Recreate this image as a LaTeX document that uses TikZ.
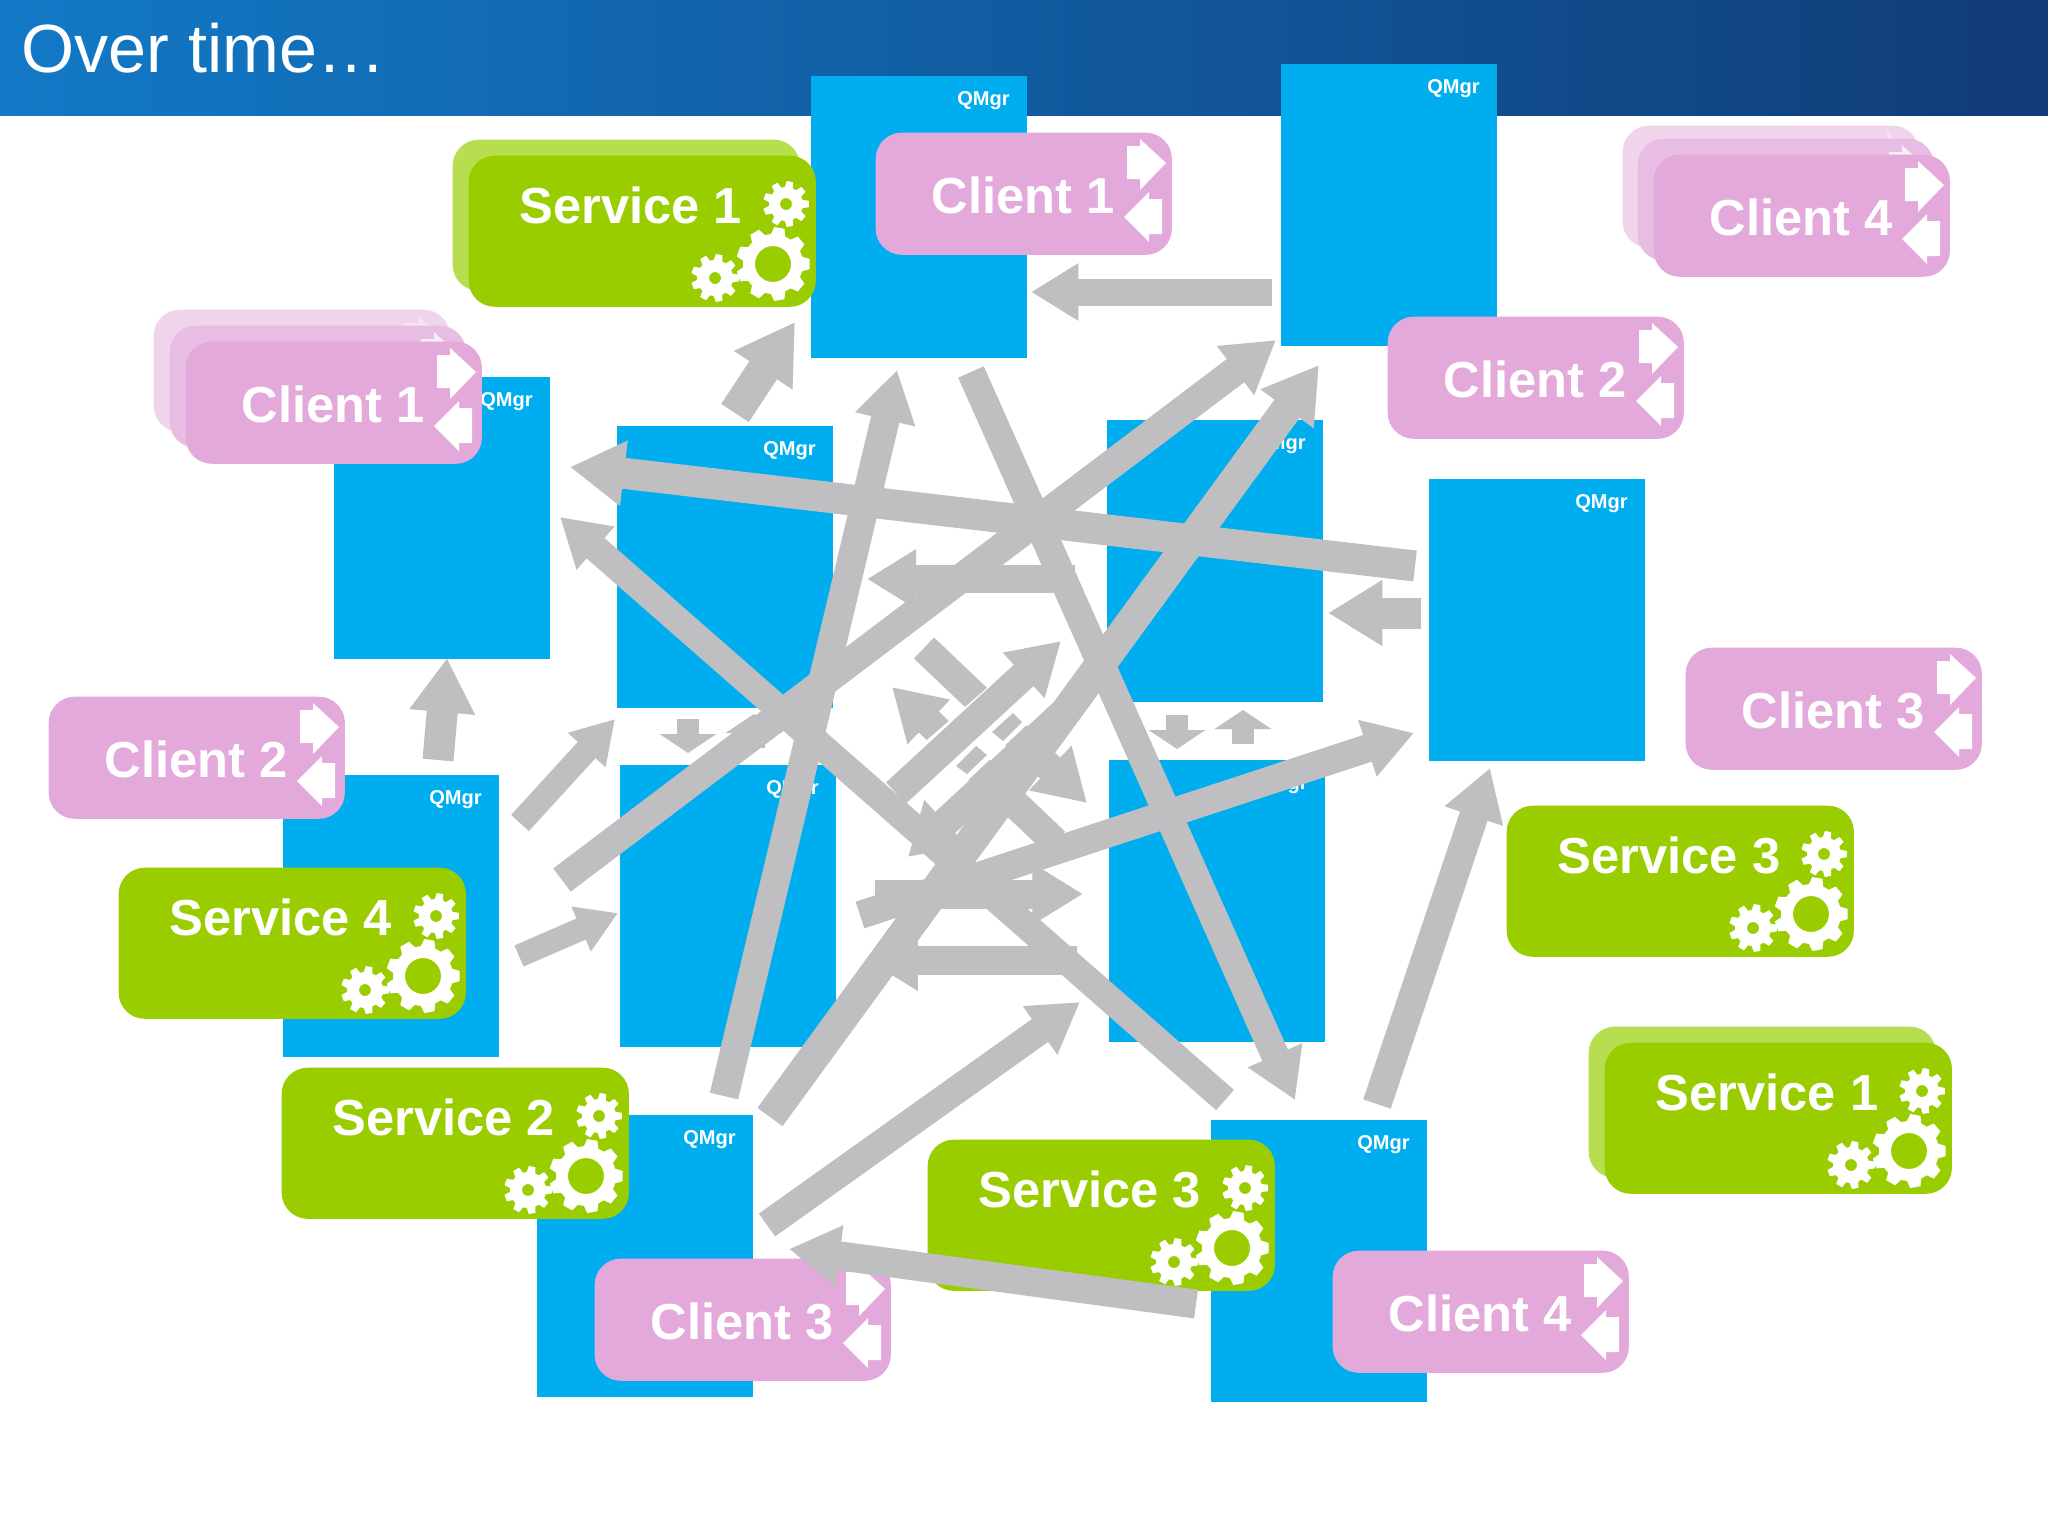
\documentclass[tikz,border=0pt]{standalone}
\usepackage{fontspec}
\setmainfont{Liberation Sans}
\usetikzlibrary{arrows.meta}
\definecolor{qmblue}{HTML}{00AEEF}
\definecolor{svcgreen}{HTML}{9ACD00}
\definecolor{svcghost}{HTML}{B7DE4E}
\definecolor{cltpink}{HTML}{E3A9DB}
\definecolor{cltghostb}{HTML}{E8BDE3}
\definecolor{cltghosta}{HTML}{F0D4EC}
\definecolor{ghostarra}{HTML}{F5E3F1}
\definecolor{ghostarrb}{HTML}{F8ECF6}
\definecolor{flowgrey}{HTML}{BFBEC0}
\definecolor{barleft}{HTML}{1279C6}
\definecolor{barmid}{HTML}{0D66B0}
\definecolor{barright}{HTML}{113C78}

\begin{document}
\begin{tikzpicture}[
  x=0.01cm, y=-0.01cm,
  qmbox/.style={fill=qmblue, anchor=north west, inner sep=0pt, minimum width=2.16cm, minimum height=2.82cm},
  qmlabel/.style={text=white, font=\bfseries\fontsize{5.7}{7}\selectfont, inner sep=0pt},
  svcbox/.style={fill=#1, anchor=north west, inner sep=0pt, rounded corners=0.26cm, minimum width=3.47cm, minimum height=1.51cm},
  svcbox/.default=svcgreen,
  cltbox/.style={fill=#1, anchor=north west, inner sep=0pt, rounded corners=0.26cm, minimum width=2.96cm, minimum height=1.22cm},
  cltbox/.default=cltpink,
  boxtext/.style={text=white, font=\bfseries\fontsize{14.4}{16}\selectfont, inner sep=0pt},
  flowarr/.style={draw=flowgrey, line width=#1*0.01cm, -{Triangle[length=0pt 1.75, width=0pt 2]}},
  ticker/.style={draw=flowgrey, line width=0.22cm, -{Triangle[length=0.19cm, width=0.56cm]}},
  pics/gear/.style n args={3}{code={
    \fill[white, even odd rule] (-14:#2)
      \foreach \a in {0,40,...,320} { -- (\a-14:#2) -- (\a-8:#1) -- (\a+8:#1) -- (\a+14:#2) } -- cycle
      (0,0) circle (#3);
  }},
  pics/svcdeco/.style={code={
    \node[boxtext] at (163,50) {#1};
    \pic at (318,49) {gear={23}{17}{6}};
    \pic at (305,109) {gear={37}{30}{18}};
    \pic at (247,123) {gear={24}{18}{6}};
  }},
  pics/pairarrows/.style={code={
    \fill[#1] (252,14) -- (265,14) -- (265,7) -- (291,31) -- (265,58) -- (265,47) -- (252,47) -- cycle;
    \fill[#1] (287,67) -- (274,67) -- (274,60) -- (249,85) -- (274,110) -- (274,102) -- (287,102) -- cycle;
  }},
]
  \useasboundingbox (0,0) rectangle (2048,1536);
  \fill[white] (0,0) rectangle (2048,1536);

  % title bar
  \shade[left color=barleft, middle color=barmid, right color=barright] (0,0) rectangle (2048,115);
  \node[text=white, font=\fontsize{19.4}{22}\selectfont, anchor=base west, inner sep=0pt] (title) at (21,72) {Over time…};

  % queue managers
  \node[qmbox] (qa) at (810,75) {};
  \node[qmbox] (qb) at (1280,63) {};
  \node[qmbox] (qc) at (333,376) {};
  \node[qmbox] (qd) at (616,425) {};
  \node[qmbox] (qe) at (1106,419) {};
  \node[qmbox] (qf) at (1428,478) {};
  \node[qmbox] (qg) at (619,764) {};
  \node[qmbox] (qh) at (1108,759) {};
  \node[qmbox] (qi) at (282,774) {};
  \node[qmbox] (qj) at (536,1114) {};
  \node[qmbox] (qk) at (1210,1119) {};
  \foreach \b in {qa,qb,qc,qd,qe,qf,qg,qh,qi,qj,qk}
    \node[qmlabel] (lbl\b) at ([shift={(-44,26)}]\b.north east) {QMgr};

  % services
  \node[svcbox=svcghost] (s1back) at (452,139) {};
  \node[svcbox] (s1) at (468,155) {};
  \pic at (s1.north west) {svcdeco={Service 1}};
  \node[svcbox] (s4) at (118,867) {};
  \pic at (s4.north west) {svcdeco={Service 4}};
  \node[svcbox] (s2) at (281,1067) {};
  \pic at (s2.north west) {svcdeco={Service 2}};
  \node[svcbox] (s3) at (927,1139) {};
  \pic at (s3.north west) {svcdeco={Service 3}};
  \node[svcbox] (s3r) at (1506,805) {};
  \pic at (s3r.north west) {svcdeco={Service 3}};
  \node[svcbox=svcghost] (s1rback) at (1588,1026) {};
  \node[svcbox] (s1r) at (1604,1042) {};
  \pic at (s1r.north west) {svcdeco={Service 1}};

  % clients
  \node[cltbox] (c1) at (875,132) {};
  \node[boxtext] (c1t) at ([shift={(148,63)}]c1.north west) {Client 1};
  \pic at (c1.north west) {pairarrows=white};
  \node[cltbox] (c2) at (1387,316) {};
  \node[boxtext] (c2t) at ([shift={(148,63)}]c2.north west) {Client 2};
  \pic at (c2.north west) {pairarrows=white};
  \node[cltbox=cltghosta] (c4backa) at (1622,125) {};
  \pic at (c4backa.north west) {pairarrows=ghostarra};
  \node[cltbox=cltghostb] (c4backb) at (1637,138) {};
  \pic at (c4backb.north west) {pairarrows=ghostarrb};
  \node[cltbox] (c4) at (1653,154) {};
  \node[boxtext] (c4t) at ([shift={(148,63)}]c4.north west) {Client 4};
  \pic at (c4.north west) {pairarrows=white};
  \node[cltbox=cltghosta] (cLbacka) at (153,309) {};
  \pic at (cLbacka.north west) {pairarrows=ghostarra};
  \node[cltbox=cltghostb] (cLbackb) at (169,325) {};
  \pic at (cLbackb.north west) {pairarrows=ghostarrb};
  \node[cltbox] (cL) at (185,341) {};
  \node[boxtext] (cLt) at ([shift={(148,63)}]cL.north west) {Client 1};
  \pic at (cL.north west) {pairarrows=white};
  \node[cltbox] (c2l) at (48,696) {};
  \node[boxtext] (c2lt) at ([shift={(148,63)}]c2l.north west) {Client 2};
  \pic at (c2l.north west) {pairarrows=white};
  \node[cltbox] (c3r) at (1685,647) {};
  \node[boxtext] (c3rt) at ([shift={(148,63)}]c3r.north west) {Client 3};
  \pic at (c3r.north west) {pairarrows=white};
  \node[cltbox] (c3) at (594,1258) {};
  \node[boxtext] (c3t) at ([shift={(148,63)}]c3.north west) {Client 3};
  \pic at (c3.north west) {pairarrows=white};
  \node[cltbox] (c4l) at (1332,1250) {};
  \node[boxtext] (c4lt) at ([shift={(148,63)}]c4l.north west) {Client 4};
  \pic at (c4l.north west) {pairarrows=white};

  % short arrows in the middle, cut by a white band
  \coordinate (ua) at (924,648);   \coordinate (va) at (1087,803);
  \coordinate (ub) at (1055,842);  \coordinate (vb) at (892,687);
  \draw[flowarr=29] (ub) -- (vb);
  \draw[flowarr=29] (ua) -- (va);
  \fill[white] (1018,661) -- (882,779) -- (934,812) -- (1050,703) -- cycle;
  \fill[flowgrey] (992,732) -- (1013,713) -- (1022,722) -- (1003,741) -- cycle;
  \fill[flowgrey] (956,766) -- (976,746) -- (987,755) -- (967,774) -- cycle;

  % arrows between the boxes
  \coordinate (u1) at (1272,292);  \coordinate (v1) at (1031,292);
  \coordinate (u2) at (735,413);   \coordinate (v2) at (795,322);
  \coordinate (u3) at (1415,566);  \coordinate (v3) at (570,467);
  \coordinate (u4) at (724,1096);  \coordinate (v4) at (897,370);
  \coordinate (u5) at (971,372);   \coordinate (v5) at (1295,1100);
  \coordinate (u6) at (562,880);   \coordinate (v6) at (1276,340);
  \coordinate (u7) at (770,1117);  \coordinate (v7) at (1319,365);
  \coordinate (u8) at (1075,579);  \coordinate (v8) at (867,579);
  \coordinate (u9) at (1421,613);  \coordinate (v9) at (1328,613);
  \coordinate (u10) at (1225,1100); \coordinate (v10) at (560,517);
  \coordinate (u11) at (438,760);  \coordinate (v11) at (447,658);
  \coordinate (u12) at (520,823);  \coordinate (v12) at (615,719);
  \coordinate (u13) at (519,956);  \coordinate (v13) at (618,913);
  \coordinate (u14) at (860,915);  \coordinate (v14) at (1414,733);
  \coordinate (u15) at (875,894);  \coordinate (v15) at (1083,894);
  \coordinate (u16) at (1077,960); \coordinate (v16) at (867,960);
  \coordinate (u17) at (1377,1104); \coordinate (v17) at (1490,768);
  \coordinate (u18) at (767,1225); \coordinate (v18) at (1080,1002);
  \coordinate (u19) at (1196,1304); \coordinate (v19) at (789,1249);
  \coordinate (u20) at (896,793);  \coordinate (v20) at (1061,641);
  \coordinate (u21) at (1072,705); \coordinate (v21) at (908,857);
  \foreach \k/\w in {1/27,2/33,3/31,4/29,5/28,6/29,7/31,8/28,9/31,10/27,11/31,12/24,13/23,14/28,15/29,16/29,17/29,18/28,19/29,20/29,21/29}
    \draw[flowarr=\w] (u\k) -- (v\k);

  % small arrows between the stacked boxes
  \coordinate (ut1) at (688,719);  \coordinate (vt1) at (688,753);
  \coordinate (ut2) at (754,748);  \coordinate (vt2) at (754,714);
  \coordinate (ut3) at (1177,715); \coordinate (vt3) at (1177,749);
  \coordinate (ut4) at (1243,744); \coordinate (vt4) at (1243,710);
  \foreach \k in {1,2,3,4}
    \draw[ticker] (ut\k) -- (vt\k);
\end{tikzpicture}
\end{document}
